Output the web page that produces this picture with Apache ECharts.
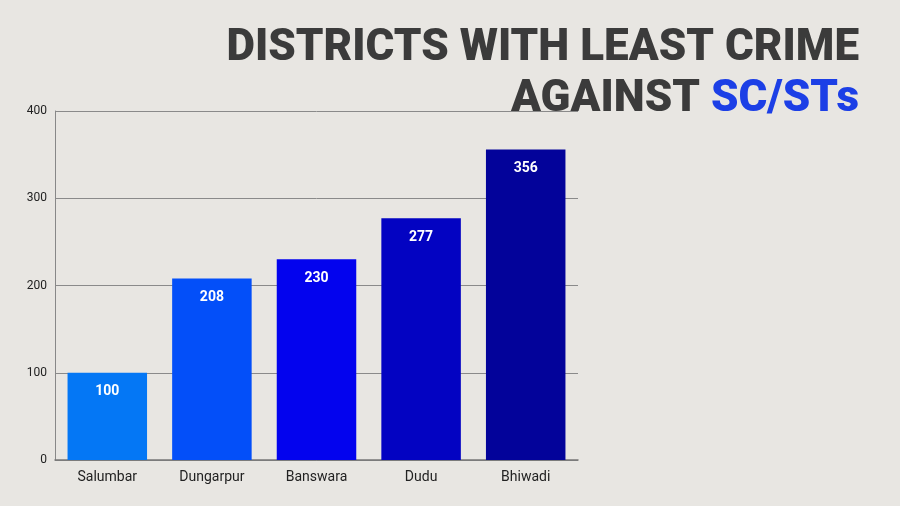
<!DOCTYPE html><html><head><meta charset="utf-8"><script src="https://cdn.jsdelivr.net/npm/echarts@6/dist/echarts.min.js"></script>
<style>html,body{margin:0;padding:0;background:#e8e6e2}#c{width:900px;height:506px}</style></head><body><div id="c"></div><script>
const categories=["Salumbar","Dungarpur","Banswara","Dudu","Bhiwadi"];
const values=[100,208,230,277,356];
const barColors=["#0477f5","#034ff9","#0303ee","#0303c2","#03039a"];
const yTicks=[0,100,200,300,400];
const chart=echarts.init(document.getElementById('c'));
chart.setOption({
backgroundColor:'#e8e6e2',
title:[{text:'DISTRICTS WITH LEAST CRIME',right:36,top:22,textStyle:{fontFamily:'Roboto',fontWeight:900,fontSize:44,color:'#3b3b3b'}},
{text:'AGAINST {b|SC/STs}',right:36,top:73,textStyle:{fontFamily:'Roboto',fontWeight:900,fontSize:44,color:'#3b3b3b',rich:{b:{fontFamily:'Roboto',fontWeight:900,fontSize:44,color:'#1c3fe6'}}}}],
grid:{left:55,right:322,top:111,bottom:46},
xAxis:{type:'category',data:categories,axisLine:{lineStyle:{color:'#777',width:1.5}},axisTick:{alignWithLabel:true,lineStyle:{color:'#777'}},axisLabel:{color:'#222',fontFamily:'Roboto',fontSize:14,margin:10}},
yAxis:{type:'value',min:0,max:400,interval:100,axisLine:{show:true,lineStyle:{color:'#888'}},splitLine:{lineStyle:{color:'#8a8a8a',width:1}},axisLabel:{color:'#222',fontFamily:'Roboto',fontSize:12,margin:8,formatter:v=>yTicks.includes(v)?String(v):''}},
series:[{type:'bar',barWidth:'76%',data:values.map((v,i)=>({value:v,itemStyle:{color:barColors[i]}})),
label:{show:true,position:'insideTop',distance:12,color:'#fff',fontFamily:'Roboto',fontWeight:'bold',fontSize:14}}]
});
</script></body></html>
